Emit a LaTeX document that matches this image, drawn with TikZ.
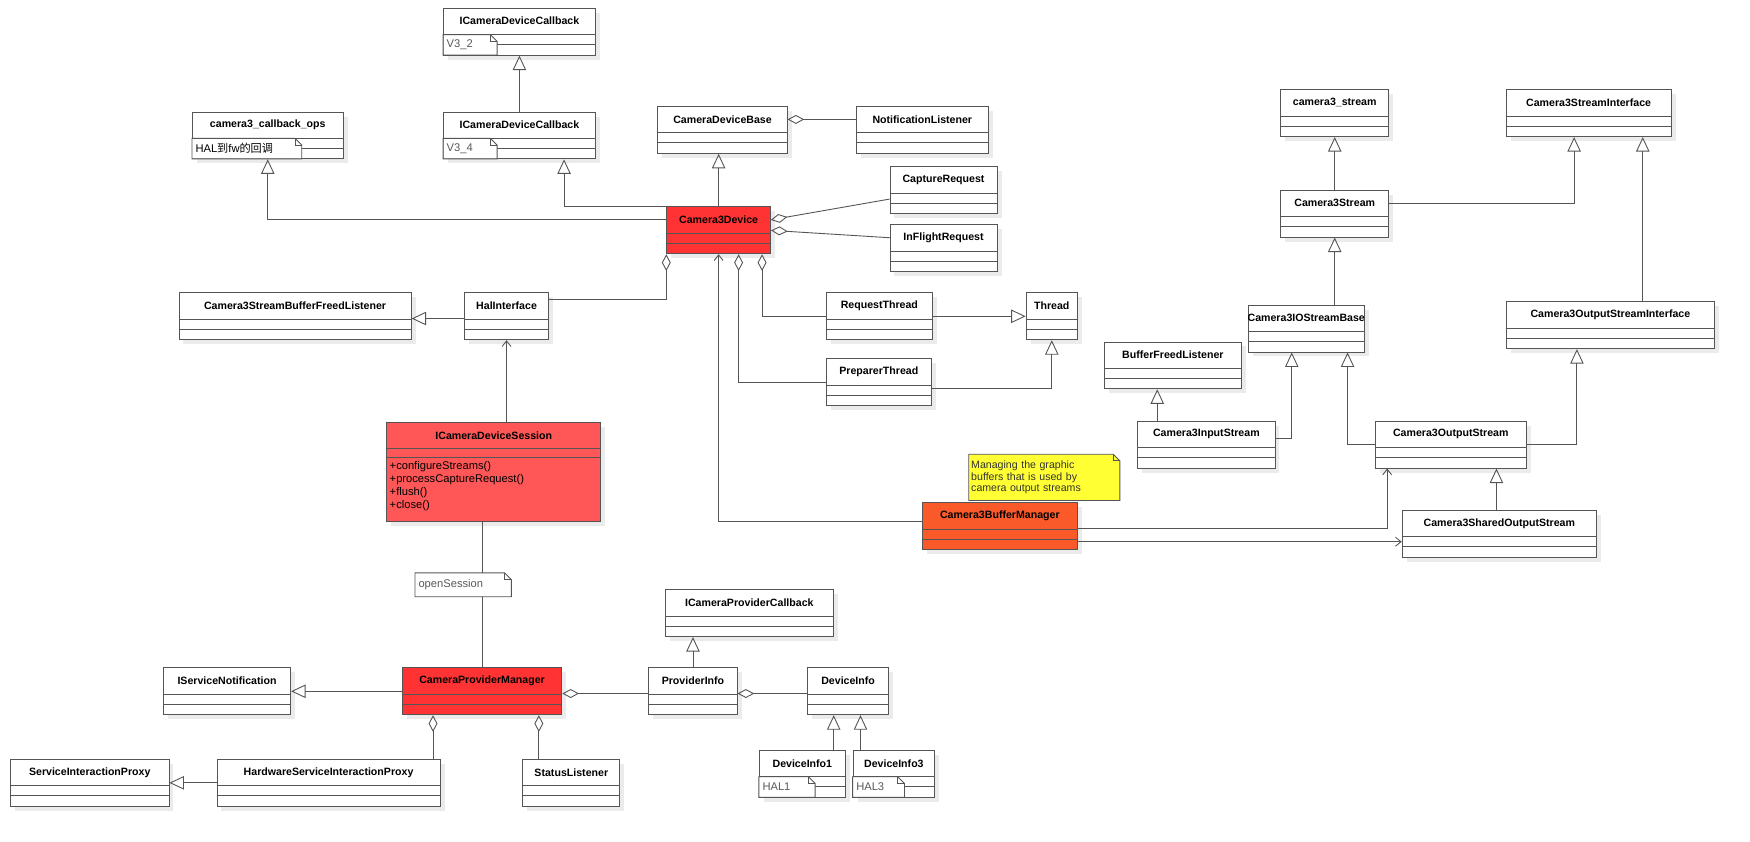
\documentclass[tikz,border=0pt]{standalone}
\usepackage{fontspec}
\setmainfont{Liberation Sans}
\newfontfamily\cjk{Noto Sans CJK SC}
\usetikzlibrary{calc, arrows.meta, positioning, shadows}

\definecolor{linegray}{HTML}{555555}
\definecolor{camred}{HTML}{FF3333}
\definecolor{sessred}{HTML}{FF5757}
\definecolor{mgrorange}{HTML}{FA5A2A}
\definecolor{noteyellow}{HTML}{FFFF33}

\tikzset{
  line/.style={draw=linegray, line width=0.8pt},
  classbox/.style={line, anchor=north west, minimum height=42pt, inner sep=0pt,
    drop shadow={shadow xshift=4pt, shadow yshift=-4pt, opacity=0.08, fill=black}},
  classtitle/.style={font=\fontsize{9.5}{12}\selectfont\bfseries, inner sep=0pt, minimum height=24pt},
  notebox/.style={font=\fontsize{10}{11.5}\selectfont, text=black!65, inner sep=3pt, align=left},
  inherit/.style={line, -{Triangle[open, length=13pt, width=12pt]}},
  aggr/.style={line, {Diamond[open, length=15pt, width=8pt]}-},
  assoc/.style={line, -{Straight Barb[length=5pt, width=8pt]}}
}

% [fill]{name}{x}{y}{width}{title}
\newcommand\umlclass[6][white]{%
  \node[classbox, fill=#1, minimum width=#5pt] (#2) at (#3,#4) {};
  \node[classtitle, minimum width=#5pt] (#2-t) at ($(#2.north)+(0,12)$) {#6};
  \draw[line] ($(#2.north west)+(0,24)$) -- ($(#2.north east)+(0,24)$);
  \draw[line] ($(#2.north west)+(0,33)$) -- ($(#2.north east)+(0,33)$);
}

% [fill]{name}{options and position}{text}
\newcommand\umlnote[4][white]{%
  \node[notebox, path picture={\fill[#1] (path picture bounding box.north west)
      -- ([xshift=-6pt]path picture bounding box.north east)
      -- ([yshift=-6pt]path picture bounding box.north east)
      -- (path picture bounding box.south east)
      -- (path picture bounding box.south west) -- cycle;}] (#2) #3 {#4};
  \draw[line] (#2.north west) -- ([xshift=-6pt]#2.north east) -- ([yshift=-6pt]#2.north east)
    -- (#2.south east) -- (#2.south west) -- cycle;
  \draw[line] ([xshift=-6pt]#2.north east) |- ([yshift=-6pt]#2.north east);
}

\begin{document}
\begin{tikzpicture}[x=1pt, y=-1pt]
  \fill[white] (0,0) rectangle (1568,754);
  \useasboundingbox (0,0) rectangle (1568,754);

  % --- left / centre classes ---
  \umlclass{cbVtwo}{397}{7}{136}{ICameraDeviceCallback}
  \umlclass{cbVfour}{397}{100}{136}{ICameraDeviceCallback}
  \umlclass{cbops}{172}{100}{135}{camera3\_callback\_ops}
  \umlclass{devbase}{589}{95}{116}{CameraDeviceBase}
  \umlclass{notif}{767}{95}{118}{NotificationListener}
  \umlclass{capreq}{797}{149}{96}{CaptureRequest}
  \umlclass{inflight}{797}{201}{96}{InFlightRequest}
  \umlclass[camred]{camdev}{597}{185}{93}{Camera3Device}
  \umlclass{bufferfreed}{160}{262}{208}{Camera3StreamBufferFreedListener}
  \umlclass{hal}{416}{262}{75}{HalInterface}
  \umlclass{reqthread}{740}{262}{95}{RequestThread}
  \umlclass{thread}{919}{262}{46}{Thread}
  \umlclass{prepthread}{740}{321}{94}{PreparerThread}

  % session with methods
  \node[classbox, fill=sessred, minimum width=192pt, minimum height=89pt] (session) at (346,378) {};
  \node[classtitle, minimum width=192pt] (session-t) at ($(session.north)+(0,12)$) {ICameraDeviceSession};
  \draw[line] ($(session.north west)+(0,24)$) -- ($(session.north east)+(0,24)$);
  \draw[line] ($(session.north west)+(0,32)$) -- ($(session.north east)+(0,32)$);
  \node[anchor=north west, align=left, inner sep=0pt, font=\fontsize{10}{11.8}\selectfont]
    (session-m) at ($(session.north west)+(3,35)$)
    {+configureStreams()\\+processCaptureRequest()\\+flush()\\+close()};

  % --- stream classes ---
  \umlclass{cstream}{1147}{80}{97}{camera3\_stream}
  \umlclass{streamif}{1349}{80}{148}{Camera3StreamInterface}
  \umlclass{stream}{1147}{170}{97}{Camera3Stream}
  \umlclass{iobase}{1118}{273}{104}{Camera3IOStreamBase}
  \umlclass{outif}{1349}{270}{187}{Camera3OutputStreamInterface}
  \umlclass{bufl}{989}{306}{123}{BufferFreedListener}
  \umlclass{instream}{1019}{377}{123}{Camera3InputStream}
  \umlclass{outstream}{1232}{377}{135}{Camera3OutputStream}
  \umlclass{shared}{1256}{457}{174}{Camera3SharedOutputStream}
  \umlclass[mgrorange]{bufmgr}{826}{450}{139}{Camera3BufferManager}

  % --- provider classes ---
  \umlclass{provcb}{596}{528}{150}{ICameraProviderCallback}
  \umlclass{isn}{146}{598}{114}{IServiceNotification}
  \umlclass[camred]{cpm}{360}{598}{143}{CameraProviderManager}
  \umlclass{provinfo}{581}{598}{79}{ProviderInfo}
  \umlclass{devinfo}{723}{598}{73}{DeviceInfo}
  \umlclass{sip}{9}{680}{142}{ServiceInteractionProxy}
  \umlclass{hsip}{194}{680}{200}{HardwareServiceInteractionProxy}
  \umlclass{status}{468}{680}{87}{StatusListener}
  \umlclass{devone}{680}{672}{77}{DeviceInfo1}
  \umlclass{devthree}{764}{672}{73}{DeviceInfo3}

  % --- notes ---
  \umlnote{vtwo}{[anchor=north west, text width=42pt, minimum height=18pt] at ($(cbVtwo.north west)+(0,24)$)}{V3\_2}
  \umlnote{vfour}{[anchor=north west, text width=42pt, minimum height=18pt] at ($(cbVfour.north west)+(0,24)$)}{V3\_4}
  \umlnote{halfw}{[anchor=north west, text width=92pt, minimum height=18pt, text=black] at ($(cbops.north west)+(0,24)$)}{HAL{\cjk 到}fw{\cjk 的回调}}
  \umlnote{halone}{[anchor=north west, text width=44pt, minimum height=18pt] at ($(devone.north west)+(0,24)$)}{HAL1}
  \umlnote{halthree}{[anchor=north west, text width=40pt, minimum height=18pt] at ($(devthree.north west)+(0,24)$)}{HAL3}
  \umlnote[noteyellow]{mgrnote}{[anchor=north west, text width=131pt, minimum height=41pt, text=black!80, font=\fontsize{9.5}{10.5}\selectfont, inner sep=2pt] at (868,407)}{Managing the graphic\\buffers that is used by\\camera output streams}

  % --- connectors: Camera3Device ---
  \draw[inherit] (cbVfour.north) -- (cbVtwo.south);
  \draw[inherit] (camdev-t.west) -| (cbops.south);
  \draw[inherit] (camdev.north west) -| ([xshift=40pt]cbVfour.south);
  \draw[inherit] (camdev.north) -- (camdev.north |- devbase.south);
  \draw[aggr] (devbase-t.east) -- (devbase-t.east -| notif.west);
  \draw[aggr] (camdev-t.east) -- ([yshift=-8pt]capreq.west);
  \draw[aggr] (camdev.east) -- (inflight-t.west);
  \draw[aggr] (camdev.south west) |- ([yshift=6pt]hal-t.east);
  \draw[aggr] ([xshift=-8pt]camdev.south east) |- (reqthread.west);
  \draw[aggr] ([xshift=-29pt]camdev.south east) |- (prepthread.west);
  \draw[inherit] (reqthread.east) -- (reqthread.east -| thread.west);
  \draw[inherit] ([yshift=-6pt]prepthread.east) -| (thread.south);
  \draw[inherit] ([yshift=-2pt]hal.west) -- ([yshift=-2pt]hal.west -| bufferfreed.east);
  \draw[assoc] (hal.south |- session.north) -- (hal.south);
  \draw[assoc] ([yshift=-5pt]bufmgr-t.west) -| (camdev.south);

  % --- connectors: streams ---
  \draw[inherit] (stream.north) -- (cstream.south);
  \draw[inherit] (stream-t.east) -| ([xshift=-13pt]streamif.south);
  \draw[inherit] ([xshift=29pt]outif.north) -- ([xshift=29pt]outif.north |- streamif.south);
  \draw[inherit] (stream.south |- iobase.north) -- (stream.south);
  \draw[inherit] ([xshift=-14pt]bufl.south |- instream.north) -- ([xshift=-14pt]bufl.south);
  \draw[inherit] ([yshift=-4pt]instream-t.east) -| ([xshift=-13pt]iobase.south);
  \draw[inherit] ([yshift=-9pt]outstream-t.west) -| ([xshift=37pt]iobase.south);
  \draw[inherit] ([yshift=-9pt]outstream-t.east) -| ([xshift=-30pt]outif.south);
  \draw[inherit] ([xshift=-27pt]shared.north -| outstream.east) -- ([xshift=-27pt]outstream.south east);
  \draw[assoc] ([yshift=-2pt]bufmgr.east) -| ([xshift=-57pt]outstream.south);
  \draw[assoc] ([yshift=-14pt]bufmgr.east) -- ([yshift=-14pt]bufmgr.east -| shared.west);

  % --- connectors: provider ---
  \draw[line] (cpm.north |- session.south) -- (cpm.north);
  \umlnote{opensession}{[text width=80pt, minimum height=21pt] at (415,524)}{openSession}
  \draw[inherit] (cpm.west) -- (cpm.west -| isn.east);
  \draw[aggr] ([yshift=-2pt]cpm.east) -- ([yshift=-2pt]cpm.east -| provinfo.west);
  \draw[inherit] (provinfo.north) -- (provinfo.north |- provcb.south);
  \draw[aggr] ([yshift=-2pt]provinfo.east) -- ([yshift=-2pt]provinfo.east -| devinfo.west);
  \draw[aggr] ([xshift=28pt]cpm.south west) -- ([xshift=28pt]cpm.south west |- hsip.north);
  \draw[aggr] ([xshift=-21pt]cpm.south east) -- ([xshift=-21pt]cpm.south east |- status.north);
  \draw[inherit] (hsip.west) -- (hsip.west -| sip.east);
  \draw[inherit] ([xshift=24pt]devinfo.south west |- devone.north) -- ([xshift=24pt]devinfo.south west);
  \draw[inherit] ([xshift=48pt]devinfo.south west |- devthree.north) -- ([xshift=48pt]devinfo.south west);
\end{tikzpicture}
\end{document}
